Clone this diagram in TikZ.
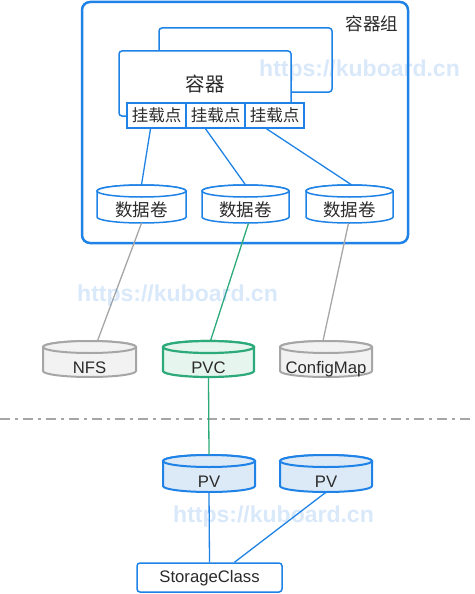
\documentclass[tikz,border=0pt]{standalone}
\usepackage{fontspec}
\setmainfont{Liberation Sans}
\newfontfamily\cjk{Noto Sans CJK SC}
\usetikzlibrary{calc}
\definecolor{kblue}{HTML}{1E82E6}
\definecolor{kbluefill}{HTML}{DCEAF8}
\definecolor{kgreen}{HTML}{2DAA7A}
\definecolor{kgreenfill}{HTML}{E6F5EE}
\definecolor{kgray}{HTML}{A6A6A6}
\definecolor{kgrayfill}{HTML}{F2F2F2}
\definecolor{ktext}{HTML}{2B2B2B}
\definecolor{kwater}{HTML}{3F8FE8}
\newcommand\mycyl[8]{%
  \path[#6] ({#2-#4/2},{-#3+#5/2-6}) -- ({#2-#4/2},{-#3-#5/2+6})
    arc[start angle=180,end angle=360,x radius=#4/2,y radius=6]
    -- ({#2+#4/2},{-#3+#5/2-6})
    arc[start angle=0,end angle=180,x radius=#4/2,y radius=6] -- cycle;
  \path[#6] (#2,{-#3+#5/2-6}) ellipse[x radius=#4/2,y radius=6];
  \node[name=#1, inner sep=0, minimum width=#4, minimum height=#5] at (#2,-#3) {};
  \node[name=#1-t, anchor=base, inner sep=0, text=ktext] at (#2,{-#3-#8}) {#7};
}
\begin{document}
\begin{tikzpicture}[x=1pt,y=1pt,
  font=\fontsize{16.7}{16.7}\selectfont,
  cjkf/.style={font=\cjk\fontsize{17.5}{17.5}\selectfont},
  volstyle/.style={draw=kblue, fill=white, line width=1.5},
  pvstyle/.style={draw=kblue, fill=kbluefill, line width=2},
  pvcstyle/.style={draw=kgreen, fill=kgreenfill, line width=2.2},
  graystyle/.style={draw=kgray, fill=kgrayfill, line width=2},
  container/.style={draw=kblue, fill=white, line width=1.5, rounded corners=3},
  mount/.style={draw=kblue, fill=white, line width=1.5, inner sep=0,
    minimum width=59, minimum height=25, text=ktext,
    font=\cjk\fontsize{16.5}{16.5}\selectfont},
  bline/.style={draw=kblue, line width=1.3},
  gline/.style={draw=kgreen, line width=1.3},
  grline/.style={draw=kgray, line width=1.3},
  water/.style={text=kwater, text opacity=0.2, anchor=base west, inner sep=0,
    font=\bfseries\fontsize{23}{23}\selectfont}
]
\useasboundingbox (0,0) rectangle (474,-594);
% pod
\draw[draw=kblue, line width=2.5, rounded corners=8] (82,-2) rectangle (408,-243);
\node[anchor=base, inner sep=0, text=ktext, cjkf] (podlabel) at (372,-31) {容器组};
% containers
\draw[container] (159,-28) rectangle (332,-92);
\draw[container] (119,-51) rectangle (291,-116);
\node[anchor=base, inner sep=0, text=ktext, font=\cjk\fontsize{19.5}{19.5}\selectfont] (ctext) at (205,-91) {容器};
\node[mount] (m1) at (156.5,-115.5) {挂载点};
\node[mount] (m2) at (215.5,-115.5) {挂载点};
\node[mount] (m3) at (274.5,-115.5) {挂载点};
% volumes
\mycyl{v1}{141.5}{204}{89}{38}{volstyle}{\cjk\fontsize{17.5}{17.5}\selectfont 数据卷}{12}
\mycyl{v2}{245.5}{204}{87}{38}{volstyle}{\cjk\fontsize{17.5}{17.5}\selectfont 数据卷}{12}
\mycyl{v3}{349.5}{204}{87}{38}{volstyle}{\cjk\fontsize{17.5}{17.5}\selectfont 数据卷}{12}
% sources
\mycyl{nfs}{89.5}{359}{93}{36}{graystyle}{NFS}{14}
\mycyl{pvc}{208.5}{359}{91}{36}{pvcstyle}{PVC}{14}
\mycyl{cm}{326}{359}{92}{36}{graystyle}{ConfigMap}{14}
% PVs
\mycyl{pv1}{209}{473.5}{92}{37}{pvstyle}{PV}{13.5}
\mycyl{pv2}{326}{473.5}{92}{37}{pvstyle}{PV}{13.5}
% storage class
\node[draw=kblue, fill=white, line width=1.5, rounded corners=3, inner sep=0,
  minimum width=145, minimum height=29] (sc) at (209.5,-577.5) {};
\node[anchor=base, inner sep=0, text=ktext] (sct) at (209.5,-582) {StorageClass};
% separator
\draw[kgray, line width=1.2, dash pattern=on 10pt off 5pt on 3pt off 5pt] (0,-419) -- (474,-419);
% connectors
\draw[bline] ($(m1.south)+(-6,0)$) -- (v1.north);
\draw[bline] ($(m2.south)+(-10,0)$) -- (v2.north);
\draw[bline] ($(m3.south)+(-8,0)$) -- ($(v3.north)+(2,0)$);
\draw[grline] (v1.south) -- ($(nfs.north)+(8,0)$);
\draw[gline] ($(v2.south)+(3,0)$) -- ($(pvc.north)+(2,0)$);
\draw[grline] ($(v3.south)+(-1,0)$) -- ($(cm.north)+(-3,0)$);
\draw[gline] (pvc.south) -- (pv1.north);
\draw[bline] (pv1.south) -- (sc.north);
\draw[bline] (pv2.south) -- ($(sc.north)+(25,0)$);
% watermarks
\node[water] (w1) at (259,-77) {https://kuboard.cn};
\node[water] (w2) at (77,-301) {https://kuboard.cn};
\node[water] (w3) at (173,-522) {https://kuboard.cn};
\end{tikzpicture}
\end{document}
